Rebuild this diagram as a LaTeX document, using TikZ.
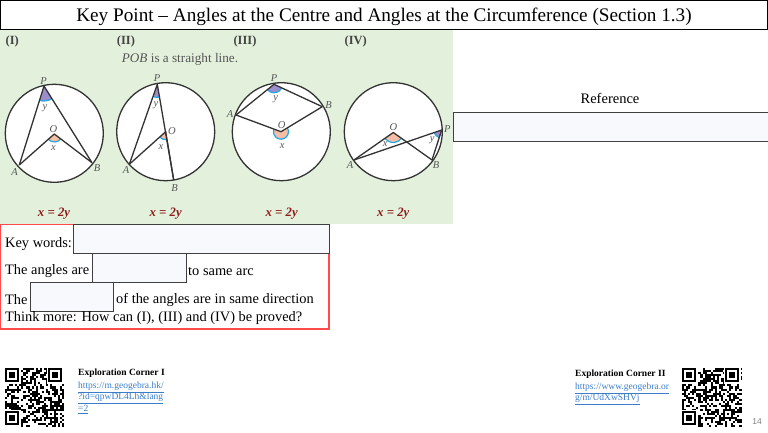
\documentclass[tikz,border=0pt]{standalone}
\usepackage{fontspec}
\setmainfont{Liberation Serif}
\newfontfamily\pagefont{Liberation Sans}
\definecolor{panelgreen}{HTML}{E3F1DC}
\definecolor{framered}{HTML}{FF4B4B}
\definecolor{blankfill}{HTML}{F8F9FC}
\definecolor{blankline}{HTML}{404040}
\definecolor{chordgrey}{HTML}{333333}
\definecolor{labelgrey}{HTML}{555555}
\definecolor{wedgepurple}{HTML}{9C8CCB}
\definecolor{wedgepink}{HTML}{F5BDA5}
\definecolor{arccyan}{HTML}{22A7E6}
\definecolor{resultred}{HTML}{8E1C1C}
\definecolor{linkblue}{HTML}{3A7DCB}
\usetikzlibrary{angles}
\tikzset{
  blank/.style={draw=blankline, fill=blankfill, line width=0.9pt},
  words/.style={anchor=west, inner sep=0pt, font=\fontsize{14.4}{17}\selectfont},
  chord/.style={draw=chordgrey, line width=1.3pt},
  ptlabel/.style={inner sep=0pt, yshift=-0.8pt, text=labelgrey, font=\fontsize{10.5}{12}\selectfont\itshape},
  roman/.style={inner sep=0pt, text=labelgrey!80!black, font=\fontsize{12.5}{14}\selectfont\bfseries},
  result/.style={inner sep=0pt, text=resultred, font=\fontsize{12.8}{14}\selectfont\bfseries\itshape},
  linkhead/.style={anchor=west, inner sep=0pt, font=\fontsize{9.5}{11}\selectfont\bfseries},
  linkbody/.style={anchor=north west, inner sep=0pt, align=left, text=linkblue, font=\fontsize{9.5}{11.6}\selectfont},
}
% finder squares and a field of modules
\pgfmathsetseed{1306}
\newcommand{\qrblock}[2]{%
  \begin{scope}[shift={(#1,#2)}, x=2.05pt, y=-2.05pt]
    \foreach \i in {0,...,28} {
      \foreach \j in {0,...,28} {
        \pgfmathtruncatemacro{\cell}{rnd<0.5 ? 1 : 0}
        \ifnum\cell=1
          \fill (\i,\j) rectangle ++(1.02,1.02);
        \fi
      }
    }
    \foreach \fx/\fy in {0/0, 21/0, 0/21} {
      \fill[white] (\fx-0.5,\fy-0.5) rectangle ++(8.5,8.5);
      \fill (\fx,\fy) rectangle ++(7,7);
      \fill[white] (\fx+1,\fy+1) rectangle ++(5,5);
      \fill (\fx+2,\fy+2) rectangle ++(3,3);
    }
    \fill (20,20) rectangle ++(5,5);
    \fill[white] (21,21) rectangle ++(3,3);
    \fill (22,22) rectangle ++(1,1);
  \end{scope}
}

\begin{document}
\begin{tikzpicture}[x=1pt, y=-1pt]
  \useasboundingbox (0,0) rectangle (768,433);

  % Title and panels
  \fill[panelgreen] (0,30) rectangle (453,224);
  \draw[black, line width=1pt] (0.5,0.5) rectangle (767.5,29.5);
  \node[inner sep=0pt, font=\fontsize{19.2}{24}\selectfont] (title) at (384,16.5)
    {Key Point -- Angles at the Centre and Angles at the Circumference (Section 1.3)};

  % Headers
  \node[roman] (headI) at (12.3,41) {(I)};
  \node[roman] (headII) at (126,41) {(II)};
  \node[roman] (headIII) at (245,41) {(III)};
  \node[roman] (headIV) at (355.7,41) {(IV)};
  \node[inner sep=0pt, text=labelgrey, font=\fontsize{13.2}{15}\selectfont] (straight) at (180,59) {\textit{POB} is a straight line.};

  % Points
  \coordinate (C1) at (54.3,133.3); \coordinate (O1) at (54.3,134);
  \coordinate (P1) at (44,86); \coordinate (A1) at (19.3,165); \coordinate (B1) at (92,162.7);
  \coordinate (C2) at (165.7,131.7); \coordinate (O2) at (165.7,131.7);
  \coordinate (P2) at (157.3,84.3); \coordinate (A2) at (129.3,164.3); \coordinate (B2) at (173.7,180);
  \coordinate (C3) at (281.3,131.7); \coordinate (O3) at (281,131.7);
  \coordinate (P3) at (274,84.3); \coordinate (A3) at (236,115); \coordinate (B3) at (322.3,106.7);
  \coordinate (C4) at (393.3,131.7); \coordinate (O4) at (393.3,132.5);
  \coordinate (P4) at (441.7,130); \coordinate (A4) at (354,160); \coordinate (B4) at (432,160);

  % Circles
  \foreach \n/\ro/\rp in {1/8/15, 2/8/13, 3/7.5/8.5, 4/10/8} {
    \fill[white] (C\n) circle (49);
    \pic[fill=wedgepurple, draw=arccyan, line width=1.2pt, angle radius=\rp pt] {angle=A\n--P\n--B\n};
    \pic[fill=wedgepink, draw=arccyan, line width=1.2pt, angle radius=\ro pt] {angle=A\n--O\n--B\n};
    \draw[chord] (C\n) circle (49);
    \draw[chord, line join=round] (A\n) -- (P\n) -- (B\n);
    \draw[chord, line join=round] (A\n) -- (O\n) -- (B\n);
  }

  % Labels of figure I
  \node[ptlabel] (lP1) at (43.5,80) {P};
  \node[ptlabel] (ly1) at (45,107) {y};
  \node[ptlabel] (lO1) at (53.5,128) {O};
  \node[ptlabel] (lx1) at (53.5,147) {x};
  \node[ptlabel] (lA1) at (14.5,171.5) {A};
  \node[ptlabel] (lB1) at (97,167) {B};
  \node[result] (res1) at (54,214) {x = 2y};
  % Labels of figure II
  \node[ptlabel] (lP2) at (157,77.5) {P};
  \node[ptlabel] (ly2) at (156,104) {y};
  \node[ptlabel] (lO2) at (172,130) {O};
  \node[ptlabel] (lx2) at (161,146) {x};
  \node[ptlabel] (lA2) at (126,169) {A};
  \node[ptlabel] (lB2) at (174.7,187) {B};
  \node[result] (res2) at (165.7,214) {x = 2y};
  % Labels of figure III
  \node[ptlabel] (lP3) at (274,77.3) {P};
  \node[ptlabel] (ly3) at (275.7,98.3) {y};
  \node[ptlabel] (lO3) at (281.7,124) {O};
  \node[ptlabel] (lx3) at (282.3,145) {x};
  \node[ptlabel] (lA3) at (230,113.7) {A};
  \node[ptlabel] (lB3) at (328.7,104) {B};
  \node[result] (res3) at (281.7,214) {x = 2y};
  % Labels of figure IV
  \node[ptlabel] (lP4) at (447.3,128.3) {P};
  \node[ptlabel] (ly4) at (432.3,139.3) {y};
  \node[ptlabel] (lO4) at (393.3,126.7) {O};
  \node[ptlabel] (lx4) at (385.3,143.3) {x};
  \node[ptlabel] (lA4) at (350,164) {A};
  \node[ptlabel] (lB4) at (436,164.3) {B};
  \node[result] (res4) at (393.3,214) {x = 2y};

  % Key words
  \draw[framered, line width=1.1pt] (0.5,224.5) rectangle (329,329);
  \draw[blank] (73,224) rectangle (329,253);
  \draw[blank] (92.3,253) rectangle (186.7,282);
  \draw[blank] (30.7,282) rectangle (113.3,311);
  \node[words] (keywords) at (5,244.5) {Key words:};
  \node[words] (areline) at (5,271.5) {The angles are};
  \node[words] (samearc) at (188,271.5) {to same arc};
  \node[words] (theline) at (5,299.5) {The};
  \node[words] (direction) at (116,299.5) {of the angles are in same direction};
  \node[words] (thinkmore) at (5,318.5) {Think more: How can (I), (III) and (IV) be proved?};

  % Reference
  \node[inner sep=0pt, font=\fontsize{14.5}{16}\selectfont] (reflabel) at (610,98) {Reference};
  \draw[blank] (453,112) rectangle (768,141);

  % Exploration corners
  \qrblock{5}{368}
  \node[linkhead] (cornerI) at (78,373.5) {Exploration Corner I};
  \node[linkbody] (linkI) at (78,381.5) {\underline{https://m.geogebra.hk/}\\\underline{?id=qpwDL4Lh\&lang}\\\underline{=2}};
  \qrblock{682}{368}
  \node[linkhead] (cornerII) at (575,374.5) {Exploration Corner II};
  \node[linkbody] (linkII) at (575,382.5) {\underline{https://www.geogebra.or}\\\underline{g/m/UdXwSHVj}};
  \node[inner sep=0pt, text=gray, font=\pagefont\fontsize{8.5}{10}\selectfont] (pagenum) at (757,422) {14};
\end{tikzpicture}
\end{document}
